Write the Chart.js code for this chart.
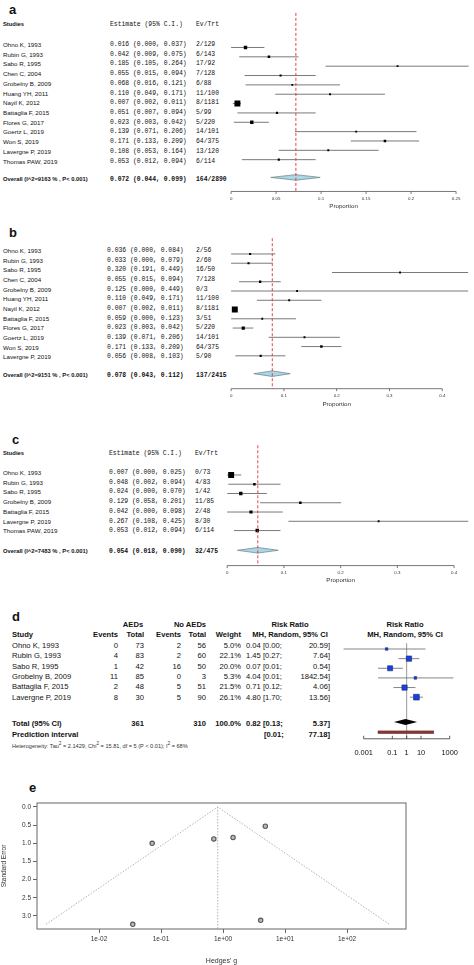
<!DOCTYPE html>
<html>
<head>
<meta charset="utf-8">
<script src="https://cdn.jsdelivr.net/npm/chart.js@4.4.0/dist/chart.umd.min.js"></script>
<style>
  body { margin: 0; background: #fff; }
  #page { position: relative; width: 474px; height: 965px; overflow: hidden; font-family: "Liberation Sans", Arial, sans-serif; color: #111; }
  .t { position: absolute; white-space: pre; line-height: 1; transform: translateY(-50%); }
  .mono { font-family: "Liberation Mono", "Courier New", monospace; }
  canvas { position: absolute; left: 0; }
</style>
</head>
<body>
<div id="page"></div>
<script>
// ---------- panel a ----------
const studiesA = ['Ohno K, 1993', 'Rubin G, 1993', 'Sabo R, 1995', 'Chen C, 2004', 'Grobelny B, 2009', 'Huang YH, 2011',
  'Nayil K, 2012', 'Battaglia F, 2015', 'Flores G, 2017', 'Goertz L, 2019', 'Won S, 2019', 'Lavergne P, 2019', 'Thomas PAW, 2019'];
const estA = [0.016, 0.042, 0.185, 0.055, 0.068, 0.110, 0.007, 0.051, 0.023, 0.139, 0.171, 0.108, 0.053];
const lowA = [0.000, 0.009, 0.105, 0.015, 0.016, 0.049, 0.002, 0.007, 0.003, 0.071, 0.133, 0.053, 0.012];
const highA = [0.037, 0.075, 0.264, 0.094, 0.121, 0.171, 0.011, 0.094, 0.042, 0.206, 0.209, 0.164, 0.094];
const evA = ['2/129', '6/143', '17/92', '7/128', '6/88', '11/100', '8/1181', '5/99', '5/220', '14/101', '64/375', '13/120', '6/114'];
const wA = [8, 6, 3.5, 5, 4.5, 4.5, 14, 5, 8, 4.5, 6, 4.5, 5];
const overallA = [0.072, 0.044, 0.099];
const totalA = '164/2890';
const i2A = '9163';
const ticksA = [0, 0.05, 0.1, 0.15, 0.2, 0.25];

// ---------- panel b ----------
const studiesB = ['Ohno K, 1993', 'Rubin G, 1993', 'Sabo R, 1995', 'Chen C, 2004', 'Grobelny B, 2009', 'Huang YH, 2011',
  'Nayil K, 2012', 'Battaglia F, 2015', 'Flores G, 2017', 'Goertz L, 2019', 'Won S, 2019', 'Lavergne P, 2019'];
const estB = [0.036, 0.033, 0.320, 0.055, 0.125, 0.110, 0.007, 0.059, 0.023, 0.139, 0.171, 0.056];
const lowB = [0.000, 0.000, 0.191, 0.015, 0.000, 0.049, 0.002, 0.000, 0.003, 0.071, 0.133, 0.008];
const highB = [0.084, 0.079, 0.449, 0.094, 0.449, 0.171, 0.011, 0.123, 0.042, 0.206, 0.209, 0.103];
const evB = ['2/56', '2/60', '16/50', '7/128', '0/3', '11/100', '8/1181', '3/51', '5/220', '14/101', '64/375', '5/90'];
const wB = [5, 5, 2.5, 5.5, 2, 4.5, 14, 4.5, 7.5, 4.5, 6, 5];
const overallB = [0.078, 0.043, 0.112];
const totalB = '137/2415';
const i2B = '9151';
const ticksB = [0, 0.1, 0.2, 0.3, 0.4];

// ---------- panel c ----------
const studiesC = ['Ohno K, 1993', 'Rubin G, 1993', 'Sabo R, 1995', 'Grobelny B, 2009', 'Battaglia F, 2015', 'Lavergne P, 2019', 'Thomas PAW, 2019'];
const estC = [0.007, 0.048, 0.024, 0.129, 0.042, 0.267, 0.053];
const lowC = [0.000, 0.002, 0.000, 0.058, 0.000, 0.108, 0.012];
const highC = [0.025, 0.094, 0.070, 0.201, 0.098, 0.425, 0.094];
const evC = ['0/73', '4/83', '1/42', '11/85', '2/48', '8/30', '6/114'];
const wC = [14, 6, 8, 6, 7.5, 3.5, 8];
const overallC = [0.054, 0.018, 0.090];
const totalC = '32/475';
const i2C = '7483';
const ticksC = [0, 0.1, 0.2, 0.3, 0.4];

// ---------- panel d ----------
const studiesD = ['Ohno K, 1993', 'Rubin G, 1993', 'Sabo R, 1995', 'Grobelny B, 2009', 'Battaglia F, 2015', 'Lavergne P, 2019'];
const evAedD = [0, 4, 1, 11, 2, 8];
const totAedD = [73, 83, 42, 85, 48, 30];
const evNoD = [2, 2, 16, 0, 5, 5];
const totNoD = [56, 60, 50, 3, 51, 90];
const weightD = [5.0, 22.1, 20.0, 5.3, 21.5, 26.1];
const rrD = [0.04, 1.45, 0.07, 4.04, 0.71, 4.80];
const rrLowD = [0.00004, 0.27, 0.01, 0.01, 0.12, 1.70];   // first lower bound printed as 0.00
const rrLowLabelD = ['0.00', '0.27', '0.01', '0.01', '0.12', '1.70'];
const rrHighD = [20.59, 7.64, 0.54, 1842.54, 4.06, 13.56];
const totalD = [0.82, 0.13, 5.37];
const predD = [0.01, 77.18];
const ticksD = [0.001, 0.1, 1, 10, 1000];

// ---------- panel e ----------
const hedgesE = [0.035, 0.072, 0.71, 1.45, 4.8, 4.04];
const seE = [3.23, 1.0, 0.88, 0.84, 0.53, 3.12];
const funnelX = [0.0014, 0.82, 480];
const funnelY = [3.23, 0, 3.23];
const ticksEx = [0.01, 0.1, 1, 10, 100];
const ticksEy = [0, 0.5, 1, 1.5, 2, 2.5, 3];

const page = document.getElementById('page');
const SANS = '"Liberation Sans", Arial, sans-serif';

function txt(x, y, s, o = {}) {
  const d = document.createElement('div');
  d.className = 't' + (o.mono ? ' mono' : '');
  d.style.top = y + 'px';
  d.style.fontSize = (o.size || 6) + 'px';
  if (o.bold) d.style.fontWeight = 'bold';
  if (o.color) d.style.color = o.color;
  if (o.align === 'right') { d.style.right = (474 - x) + 'px'; }
  else if (o.align === 'center') { d.style.left = x + 'px'; d.style.transform = 'translate(-50%,-50%)'; }
  else d.style.left = x + 'px';
  if (o.html) d.innerHTML = s; else d.textContent = s;
  page.appendChild(d);
  return d;
}

function canvasAt(top, h, left = 0, w = 474) {
  const c = document.createElement('canvas');
  c.style.top = top + 'px';
  c.style.left = left + 'px';
  c.style.width = w + 'px';
  c.style.height = h + 'px';
  c.width = w; c.height = h;
  page.appendChild(c);
  return c;
}

// generic forest plot (panels a-c)
function forest(cfg) {
  const { names, est, low, high, ev, w, overall, total, i2, ticks } = cfg;
  txt(cfg.labelX, cfg.labelY, cfg.label, { size: 13, bold: true });
  if (cfg.header) {
    txt(3, cfg.headerY, 'Studies', { size: 5.8, bold: true });
    txt(cfg.estX, cfg.headerY, 'Estimate (95% C.I.)', { size: 6.4, mono: true });
    txt(cfg.evX, cfg.headerY, 'Ev/Trt', { size: 6.4, mono: true });
  }
  const fmt = v => v.toFixed(3);
  names.forEach((n, i) => {
    const y = cfg.rowTop + i * cfg.step;
    txt(3, y, n, { size: 6.2 });
    txt(cfg.estX, y, `${fmt(est[i])} (${fmt(low[i])}, ${fmt(high[i])})`, { size: 6.4, mono: true });
    txt(cfg.evX, y, ev[i], { size: 6.4, mono: true });
  });
  const oy = cfg.rowTop + cfg.overallRow * cfg.step;
  txt(3, oy, `Overall (I^2=${i2} % , P< 0.001)`, { size: 5.8, bold: true });
  txt(cfg.estX, oy, `${fmt(overall[0])} (${fmt(overall[1])}, ${fmt(overall[2])})`, { size: 6.4, mono: true, bold: true });
  txt(cfg.evX, oy, total, { size: 6.4, mono: true, bold: true });

  const cv = canvasAt(cfg.top, cfg.h);
  const xmin = -cfg.x0 / cfg.unit, xmax = (474 - cfg.x0) / cfg.unit;
  const ymin = (cfg.top - cfg.rowTop) / cfg.step, ymax = ymin + cfg.h / cfg.step;
  const axisRow = cfg.axisRow;

  const drawPlugin = {
    id: 'forestExtras',
    beforeDatasetsDraw(chart) {
      const { ctx, scales: { x, y } } = chart;
      ctx.save();
      ctx.strokeStyle = '#7a7a7a'; ctx.lineWidth = 1;
      est.forEach((_, i) => {
        ctx.beginPath();
        ctx.moveTo(x.getPixelForValue(low[i]), y.getPixelForValue(i));
        ctx.lineTo(x.getPixelForValue(high[i]), y.getPixelForValue(i));
        ctx.stroke();
      });
      const dy = y.getPixelForValue(cfg.overallRow);
      ctx.beginPath();
      ctx.moveTo(x.getPixelForValue(overall[1]), dy);
      ctx.lineTo(x.getPixelForValue(overall[0]), dy - 2.8);
      ctx.lineTo(x.getPixelForValue(overall[2]), dy);
      ctx.lineTo(x.getPixelForValue(overall[0]), dy + 2.8);
      ctx.closePath();
      ctx.fillStyle = '#a8d8e6'; ctx.fill();
      ctx.strokeStyle = '#6a7d84'; ctx.lineWidth = 0.7; ctx.stroke();
      const ay = y.getPixelForValue(axisRow);
      ctx.strokeStyle = '#555'; ctx.lineWidth = 0.8;
      ctx.beginPath();
      ctx.moveTo(x.getPixelForValue(ticks[0]), ay);
      ctx.lineTo(x.getPixelForValue(ticks[ticks.length - 1]), ay);
      ctx.stroke();
      ctx.fillStyle = '#333'; ctx.font = '4.4px ' + SANS; ctx.textAlign = 'center'; ctx.textBaseline = 'top';
      ticks.forEach(t => {
        const px = x.getPixelForValue(t);
        ctx.beginPath(); ctx.moveTo(px, ay); ctx.lineTo(px, ay + 2.5); ctx.stroke();
        ctx.fillText(String(t), px, ay + 5);
      });
      ctx.font = '6.2px ' + SANS;
      ctx.fillText('Proportion', x.getPixelForValue((ticks[0] + ticks[ticks.length - 1]) / 2), ay + 12);
      ctx.restore();
    },
    afterDatasetsDraw(chart) {
      const { ctx, scales: { x, y } } = chart;
      ctx.save();
      ctx.strokeStyle = '#e0303a'; ctx.lineWidth = 0.9; ctx.setLineDash([3, 2]);
      const px = x.getPixelForValue(overall[0]);
      ctx.beginPath();
      ctx.moveTo(px, y.getPixelForValue(cfg.refTopRow));
      ctx.lineTo(px, y.getPixelForValue(axisRow));
      ctx.stroke();
      ctx.restore();
    }
  };

  new Chart(cv, {
    type: 'scatter',
    data: {
      datasets: [{
        data: est.map((v, i) => ({ x: v, y: i })),
        pointStyle: 'rect',
        pointRadius: w.map(v => Math.max(1.3, v * 0.3)),
        backgroundColor: '#000',
        borderColor: '#000',
        borderWidth: 0
      }]
    },
    options: {
      responsive: false, animation: false, devicePixelRatio: 1,
      layout: { padding: 0 },
      plugins: { legend: { display: false }, tooltip: { enabled: false } },
      scales: {
        x: { type: 'linear', display: false, min: xmin, max: xmax },
        y: { type: 'linear', display: false, min: ymin, max: ymax, reverse: true }
      }
    },
    plugins: [drawPlugin]
  });
}

forest({ label: 'a', labelX: 9, labelY: 9, header: true, headerY: 25, names: studiesA, est: estA, low: lowA, high: highA,
  ev: evA, w: wA, overall: overallA, total: totalA, i2: i2A, ticks: ticksA,
  estX: 110, evX: 196, top: 0, h: 220, rowTop: 45, step: 9.72, overallRow: 13.9, axisRow: 15.4, refTopRow: -3.7,
  x0: 231, unit: 916 });

forest({ label: 'b', labelX: 9, labelY: 232, header: false, names: studiesB, est: estB, low: lowB, high: highB,
  ev: evB, w: wB, overall: overallB, total: totalB, i2: i2B, ticks: ticksB,
  estX: 107, evX: 196, top: 222, h: 198, rowTop: 251, step: 9.67, overallRow: 12.93, axisRow: 14.55, refTopRow: -1.7,
  x0: 231, unit: 537.5 });

forest({ label: 'c', labelX: 12, labelY: 439, header: true, headerY: 454, names: studiesC, est: estC, low: lowC, high: highC,
  ev: evC, w: wC, overall: overallC, total: totalC, i2: i2C, ticks: ticksC,
  estX: 109, evX: 195, top: 425, h: 180, rowTop: 473, step: 9.72, overallRow: 8.13, axisRow: 9.78, refTopRow: -3.2,
  x0: 227, unit: 577.5 });

// ---------- panel d table ----------
(function panelD() {
  const S = 7.6;
  txt(12, 616, 'd', { size: 13, bold: true });
  txt(133, 625, 'AEDs', { size: S, bold: true, align: 'center' });
  txt(190, 625, 'No AEDs', { size: S, bold: true, align: 'center' });
  txt(290, 625, 'Risk Ratio', { size: S, bold: true, align: 'center' });
  txt(405, 625, 'Risk Ratio', { size: S, bold: true, align: 'center' });
  const hy = 635;
  txt(12, hy, 'Study', { size: S, bold: true });
  txt(118, hy, 'Events', { size: S, bold: true, align: 'right' });
  txt(144, hy, 'Total', { size: S, bold: true, align: 'right' });
  txt(181, hy, 'Events', { size: S, bold: true, align: 'right' });
  txt(206, hy, 'Total', { size: S, bold: true, align: 'right' });
  txt(241, hy, 'Weight', { size: S, bold: true, align: 'right' });
  txt(290, hy, 'MH, Random, 95% CI', { size: S, bold: true, align: 'center' });
  txt(405, hy, 'MH, Random, 95% CI', { size: S, bold: true, align: 'center' });
  studiesD.forEach((n, i) => {
    const y = 646 + i * 10.3;
    txt(12, y, n, { size: S });
    txt(118, y, String(evAedD[i]), { size: S, align: 'right' });
    txt(144, y, String(totAedD[i]), { size: S, align: 'right' });
    txt(181, y, String(evNoD[i]), { size: S, align: 'right' });
    txt(206, y, String(totNoD[i]), { size: S, align: 'right' });
    txt(241, y, weightD[i].toFixed(1) + '%', { size: S, align: 'right' });
    txt(246, y, `${rrD[i].toFixed(2)} [${rrLowLabelD[i]};`, { size: S });
    txt(330, y, rrHighD[i].toFixed(2) + ']', { size: S, align: 'right' });
  });
  const sum = a => a.reduce((p, v) => p + v, 0);
  txt(12, 724, 'Total (95% CI)', { size: S, bold: true });
  txt(144, 724, String(sum(totAedD)), { size: S, bold: true, align: 'right' });
  txt(206, 724, String(sum(totNoD)), { size: S, bold: true, align: 'right' });
  txt(241, 724, '100.0%', { size: S, bold: true, align: 'right' });
  txt(246, 724, `${totalD[0].toFixed(2)} [${totalD[1].toFixed(2)};`, { size: S, bold: true });
  txt(330, 724, totalD[2].toFixed(2) + ']', { size: S, bold: true, align: 'right' });
  txt(12, 735, 'Prediction interval', { size: S, bold: true });
  txt(264, 735, `[${predD[0].toFixed(2)};`, { size: S, bold: true });
  txt(330, 735, predD[1].toFixed(2) + ']', { size: S, bold: true, align: 'right' });
  txt(12, 746, 'Heterogeneity: Tau<sup>2</sup> = 2.1429; Chi<sup>2</sup> = 15.81, df = 5 (P &lt; 0.01); I<sup>2</sup> = 68%',
    { size: 5.6, html: true, color: '#333' });

  const left = 330, w = 144, top = 620, h = 145;
  const dec = 15.33, rowTop = 646, step = 10.3;
  const lmin = -3 - (361 - left) / dec, lmax = lmin + w / dec;
  const ymin = (top - rowTop) / step, ymax = ymin + h / step;
  const totRow = 7.57, predRow = 8.64, axisRow = 9.32;
  const cv = canvasAt(top, h, left, w);
  const plug = {
    id: 'dExtras',
    beforeDatasetsDraw(chart) {
      const { ctx, scales: { x, y } } = chart;
      ctx.save();
      const x1 = x.getPixelForValue(1);
      ctx.strokeStyle = '#999'; ctx.lineWidth = 1;
      ctx.beginPath(); ctx.moveTo(x1, y.getPixelForValue(-0.6)); ctx.lineTo(x1, y.getPixelForValue(axisRow)); ctx.stroke();
      ctx.strokeStyle = '#666'; ctx.lineWidth = 0.8;
      rrD.forEach((_, i) => {
        ctx.beginPath();
        ctx.moveTo(x.getPixelForValue(rrLowD[i]), y.getPixelForValue(i));
        ctx.lineTo(x.getPixelForValue(rrHighD[i]), y.getPixelForValue(i));
        ctx.stroke();
      });
      const ty = y.getPixelForValue(totRow);
      ctx.beginPath();
      ctx.moveTo(x.getPixelForValue(totalD[1]), ty);
      ctx.lineTo(x.getPixelForValue(totalD[0]), ty - 3);
      ctx.lineTo(x.getPixelForValue(totalD[2]), ty);
      ctx.lineTo(x.getPixelForValue(totalD[0]), ty + 3);
      ctx.closePath(); ctx.fillStyle = '#000'; ctx.fill();
      const py = y.getPixelForValue(predRow);
      ctx.fillStyle = '#a52a2a';
      ctx.fillRect(x.getPixelForValue(predD[0]), py - 1.3, x.getPixelForValue(predD[1]) - x.getPixelForValue(predD[0]), 2.6);
      ctx.strokeStyle = '#444'; ctx.lineWidth = 0.6;
      ctx.strokeRect(x.getPixelForValue(predD[0]), py - 1.3, x.getPixelForValue(predD[1]) - x.getPixelForValue(predD[0]), 2.6);
      const ay = y.getPixelForValue(axisRow);
      ctx.strokeStyle = '#333'; ctx.lineWidth = 0.8;
      ctx.beginPath();
      ctx.moveTo(x.getPixelForValue(ticksD[0]), ay); ctx.lineTo(x.getPixelForValue(ticksD[ticksD.length - 1]), ay); ctx.stroke();
      ctx.fillStyle = '#111'; ctx.font = '7.4px ' + SANS; ctx.textAlign = 'center'; ctx.textBaseline = 'top';
      ticksD.forEach(t => {
        const px = x.getPixelForValue(t);
        ctx.beginPath(); ctx.moveTo(px, ay); ctx.lineTo(px, ay - 3); ctx.stroke();
        ctx.fillText(String(t), px, ay + 10);
      });
      ctx.restore();
    }
  };
  new Chart(cv, {
    type: 'scatter',
    data: { datasets: [{
      data: rrD.map((v, i) => ({ x: v, y: i })),
      pointStyle: 'rect',
      pointRadius: weightD.map(v => Math.sqrt(v) * 0.8),
      backgroundColor: '#1c3fd6', borderColor: '#15288a', borderWidth: 0.6
    }] },
    options: {
      responsive: false, animation: false, devicePixelRatio: 1,
      layout: { padding: 0 },
      plugins: { legend: { display: false }, tooltip: { enabled: false } },
      scales: {
        x: { type: 'logarithmic', display: false, min: Math.pow(10, lmin), max: Math.pow(10, lmax) },
        y: { type: 'linear', display: false, min: ymin, max: ymax, reverse: true }
      }
    },
    plugins: [plug]
  });
})();

// ---------- panel e: funnel plot ----------
(function panelE() {
  txt(29, 787, 'e', { size: 13, bold: true });
  const cv = canvasAt(795, 170);
  const box = {
    id: 'box',
    afterDraw(chart) {
      const { ctx, chartArea: a } = chart;
      ctx.save(); ctx.strokeStyle = '#666'; ctx.lineWidth = 1;
      ctx.strokeRect(a.left, a.top, a.right - a.left, a.bottom - a.top);
      ctx.restore();
    }
  };
  new Chart(cv, {
    type: 'scatter',
    data: { datasets: [
      { type: 'line', data: funnelX.map((v, i) => ({ x: v, y: funnelY[i] })), borderColor: '#aaa', borderWidth: 0.9,
        borderDash: [1.5, 1.5], pointRadius: 0, fill: false },
      { type: 'line', data: [{ x: funnelX[1], y: 0 }, { x: funnelX[1], y: 3.36 }], borderColor: '#aaa', borderWidth: 0.9,
        borderDash: [1.5, 1.5], pointRadius: 0, fill: false },
      { data: hedgesE.map((v, i) => ({ x: v, y: seE[i] })), pointRadius: 2.2, backgroundColor: '#bbb',
        borderColor: '#555', borderWidth: 1.1 }
    ] },
    options: {
      responsive: false, animation: false, devicePixelRatio: 1,
      layout: { padding: { top: 8, right: 68, left: 0, bottom: 0 } },
      plugins: { legend: { display: false }, tooltip: { enabled: false } },
      scales: {
        x: {
          type: 'logarithmic', min: 0.001, max: 891,
          afterBuildTicks: s => { s.ticks = ticksEx.map(v => ({ value: v })); },
          afterFit: s => { s.height = 36; },
          grid: { drawOnChartArea: false, tickLength: 4, color: '#666' },
          border: { display: false },
          ticks: { color: '#333', font: { size: 6.5, family: SANS }, padding: 2, maxRotation: 0,
            callback: v => v.toExponential(0).replace(/e([+-])(\d)$/, 'e$10$2') },
          title: { display: true, text: "Hedges' g", color: '#333', font: { size: 7, family: SANS }, padding: 0 }
        },
        y: {
          type: 'linear', min: -0.11, max: 3.36, reverse: true,
          afterBuildTicks: s => { s.ticks = ticksEy.map(v => ({ value: v })); },
          afterFit: s => { s.width = 37; },
          grid: { drawOnChartArea: false, tickLength: 4, color: '#666' },
          border: { display: false },
          ticks: { color: '#333', font: { size: 6.5, family: SANS }, padding: 2, callback: v => v.toFixed(1) },
          title: { display: true, text: 'Standard Error', color: '#333', font: { size: 6.5, family: SANS }, padding: 0 }
        }
      }
    },
    plugins: [box]
  });
})();
</script>
</body>
</html>
